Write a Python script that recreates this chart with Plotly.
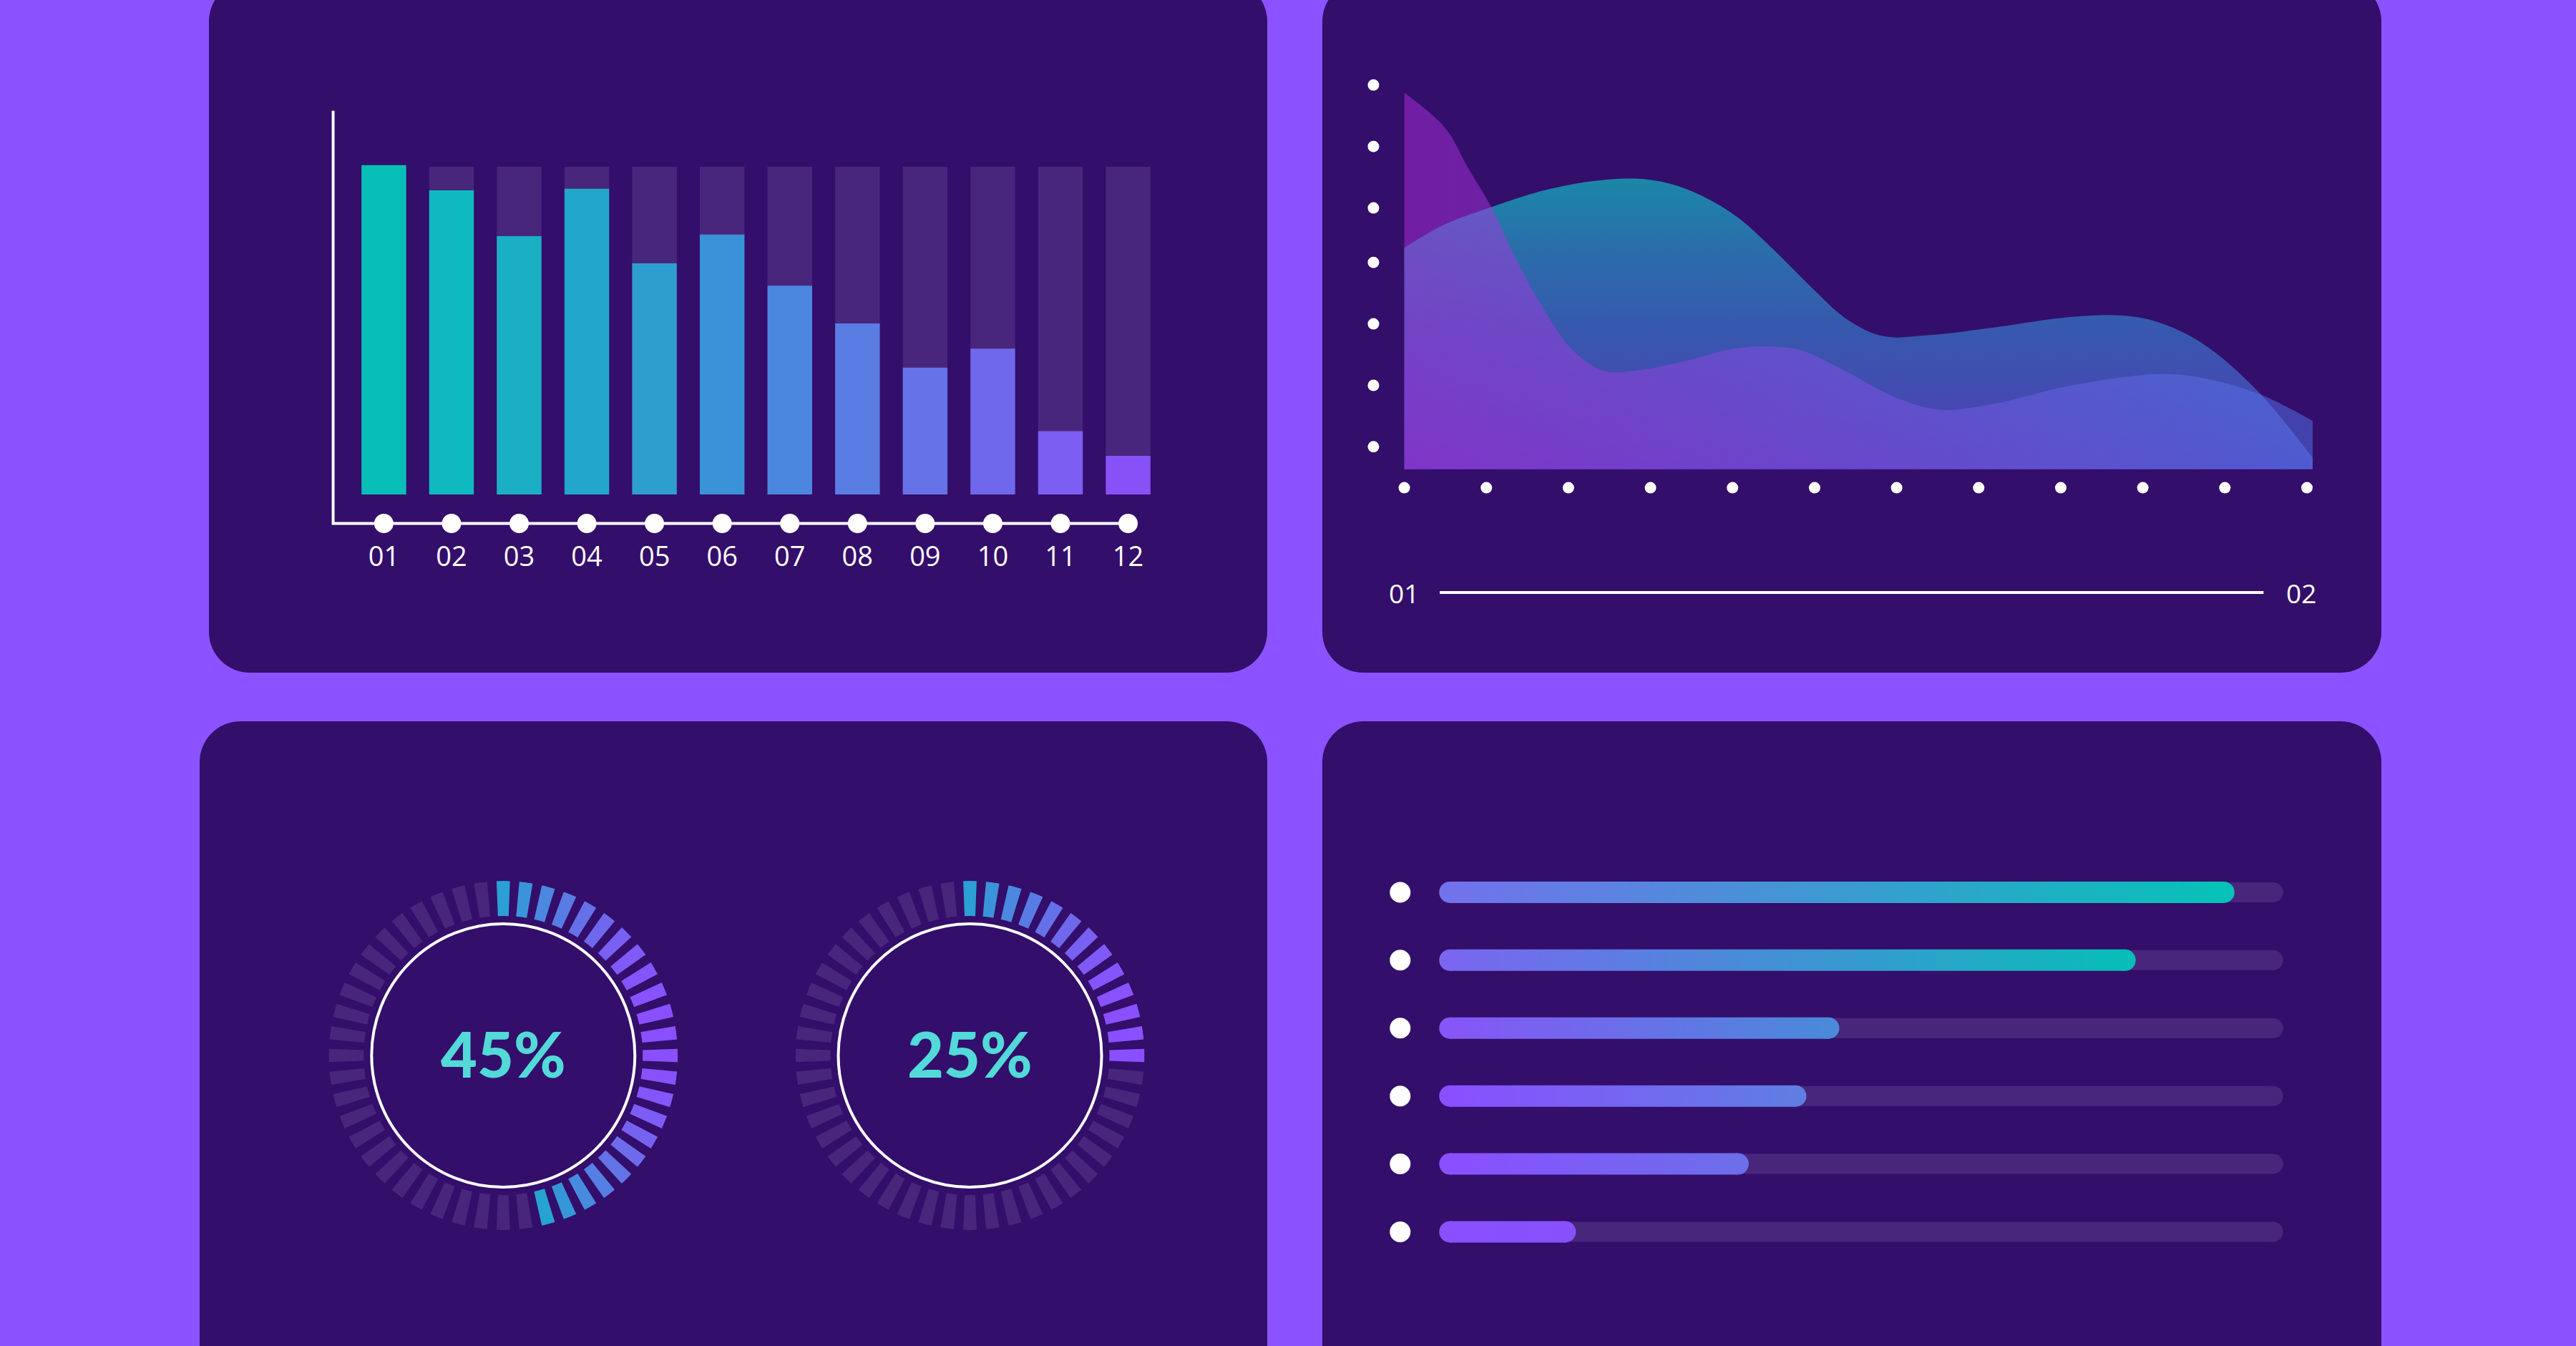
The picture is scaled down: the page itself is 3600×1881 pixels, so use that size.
import math
import plotly.graph_objects as go

W, H = 3600, 1881
BG = "#8C52FF"
PANEL = "#330E6B"
TRACK = "#47267C"
WHITE = "#FFFFFF"
FONT = "Open Sans"

# --- top left: monthly bars (share of track, %) ---
months = ["01", "02", "03", "04", "05", "06", "07", "08", "09", "10", "11", "12"]
month_values = [100.5, 92.8, 78.8, 93.3, 70.5, 79.3, 63.7, 52.2, 38.7, 44.5, 19.3, 11.8]
month_track = [100] * 12
month_colors = ["#07BFB8", "#0EB9BF", "#1BAFC5", "#22A7CA", "#2E9ECF", "#3A92D8",
                "#4B87DE", "#5A7DE3", "#6673E8", "#6F68EC", "#7C5EF2", "#8751F8"]

# --- top right: two waves ---
wave_purple_x = [0, 0.5, 0.77, 1.06, 1.35, 1.66, 2.05, 2.44, 2.83, 3.41, 4.0,
                 4.45, 4.84, 5.4, 5.95, 6.51, 7.23, 8.07, 9.18, 9.73, 10.4, 11.07]
wave_purple_y = [97.4, 88.2, 78.2, 67.8, 54.9, 42.8, 30.8, 25.4, 25.5, 27.9, 31.1,
                 31.8, 30.7, 25.1, 18.9, 15.4, 17.1, 21.4, 24.6, 23.6, 19.6, 12.5]
wave_teal_x = [0, 0.5, 1.06, 1.66, 2.25, 2.8, 3.23, 3.62, 4.06, 4.51, 4.95, 5.4, 5.84,
               6.4, 7.23, 8.07, 8.73, 9.18, 9.73, 10.4, 11.07]
wave_teal_y = [57.3, 63.4, 67.8, 71.9, 74.4, 75.2, 73.9, 70.8, 65.2, 56.6, 47.3, 38.7, 34.4,
               34.7, 36.8, 39.3, 39.8, 38.1, 32.5, 20.2, 2.9]
wave_x_ticks = list(range(12))
wave_y_ticks = [99.4, 83.5, 67.6, 53.5, 37.6, 21.7, 5.8]
wave_labels = ["01", "02"]

# --- bottom left: gauges ---
gauge_values = [45, 25]
GAUGE_TICKS = 48

# --- bottom right: progress rows (%) ---
progress_values = [94, 82, 46, 42, 35, 14]
progress_left = ["#7272EC", "#7A66F0", "#8656F7", "#8A4FFF", "#8A4FFF", "#8A4FFF"]
progress_right = ["#06C2B7", "#08BDB9", "#4A8AD9", "#5F7DE3", "#6C6EEA", "#8651FB"]


def panel(x0, y0, x1, y1, r=57):
    # rounded rect, pixel coords from top-left -> paper path
    k = 0.552 * r

    def p(x, y):
        return f"{x / W:.5f},{1 - y / H:.5f}"

    path = (f"M {p(x0 + r, y0)} L {p(x1 - r, y0)} "
            f"C {p(x1 - r + k, y0)} {p(x1, y0 + r - k)} {p(x1, y0 + r)} "
            f"L {p(x1, y1 - r)} "
            f"C {p(x1, y1 - r + k)} {p(x1 - r + k, y1)} {p(x1 - r, y1)} "
            f"L {p(x0 + r, y1)} "
            f"C {p(x0 + r - k, y1)} {p(x0, y1 - r + k)} {p(x0, y1 - r)} "
            f"L {p(x0, y0 + r)} "
            f"C {p(x0, y0 + r - k)} {p(x0 + r - k, y0)} {p(x0 + r, y0)} Z")
    return dict(type="path", path=path, xref="paper", yref="paper",
                fillcolor=PANEL, line=dict(width=0), layer="below")


fig = go.Figure()

# bar chart
fig.add_trace(go.Bar(x=list(range(12)), y=month_track, width=0.66,
                     marker=dict(color=TRACK, line=dict(width=0)),
                     xaxis="x", yaxis="y", hoverinfo="skip"))
fig.add_trace(go.Bar(x=list(range(12)), y=month_values, width=0.66,
                     marker=dict(color=month_colors, line=dict(width=0)),
                     xaxis="x", yaxis="y"))
# axis corner: y axis up the left, x axis out to the last month
fig.add_trace(go.Scatter(x=[-0.749, -0.749, 11], y=[117.1, -8.84, -8.84], mode="lines",
                         line=dict(color=WHITE, width=4), xaxis="x", yaxis="y"))
fig.add_trace(go.Scatter(x=list(range(12)), y=[-8.84] * 12, mode="markers",
                         marker=dict(size=27, color=WHITE), cliponaxis=False,
                         xaxis="x", yaxis="y"))

# waves
fig.add_trace(go.Scatter(x=wave_teal_x, y=wave_teal_y, mode="lines",
                         line=dict(width=0, shape="spline", smoothing=1),
                         fill="tozeroy",
                         fillgradient=dict(type="vertical", start=0, stop=75.4,
                                           colorscale=[[0, "#503CB4"], [0.48, "#3758AE"],
                                                       [0.76, "#2A6EAA"], [1, "#1B87A8"]]),
                         xaxis="x2", yaxis="y2"))
fig.add_trace(go.Scatter(x=wave_purple_x, y=wave_purple_y, mode="lines",
                         line=dict(width=0, shape="spline", smoothing=1),
                         fill="tozeroy",
                         fillgradient=dict(type="horizontal", start=0, stop=11.07,
                                           colorscale=[[0, "rgba(176,46,220,0.5)"],
                                                       [1, "rgba(80,120,236,0.5)"]]),
                         xaxis="x2", yaxis="y2"))
fig.add_trace(go.Scatter(x=wave_x_ticks, y=[-4.8] * len(wave_x_ticks), mode="markers",
                         marker=dict(size=16, color=WHITE), cliponaxis=False,
                         xaxis="x2", yaxis="y2"))
fig.add_trace(go.Scatter(x=[-0.376] * len(wave_y_ticks), y=wave_y_ticks, mode="markers",
                         marker=dict(size=16, color=WHITE), cliponaxis=False,
                         xaxis="x2", yaxis="y2"))

# gauges
step = 360 / GAUGE_TICKS
thetas = [i * step for i in range(GAUGE_TICKS)]
for gi, val in enumerate(gauge_values):
    pol = "polar" if gi == 0 else "polar2"
    fig.add_trace(go.Barpolar(theta=thetas, r=[49] * GAUGE_TICKS, base=195, width=4.4,
                              marker=dict(color=TRACK, line=dict(width=0)),
                              subplot=pol, hoverinfo="skip"))
    on = [t for t in thetas if t <= val * 3.6 + 4]
    shade = [math.sin(math.radians(t)) + 0.15 * math.cos(math.radians(t)) for t in on]
    fig.add_trace(go.Barpolar(theta=on, r=[49] * len(on), base=195, width=4.4,
                              marker=dict(color=shade, cmin=-0.15, cmax=1,
                                          colorscale=[[0, "#12B6BF"], [0.26, "#2AA0D4"],
                                                      [0.5, "#4E86E0"], [0.75, "#6E69EC"],
                                                      [1, "#8A50FF"]],
                                          line=dict(width=0)),
                              subplot=pol))

# progress rows
rows = list(range(len(progress_values)))
track_x, track_y = [], []
for i in rows:
    track_x += [0, 100, None]
    track_y += [i, i, None]
fig.add_trace(go.Scatter(x=track_x, y=track_y, mode="lines+markers",
                         line=dict(width=28, color=TRACK),
                         marker=dict(size=28, color=TRACK),
                         xaxis="x3", yaxis="y3"))
h = 0.158
for i, v in enumerate(progress_values):
    fig.add_trace(go.Scatter(x=[0, v, v, 0, 0], y=[i - h, i - h, i + h, i + h, i - h],
                             mode="lines", line=dict(width=0), fill="toself",
                             fillgradient=dict(type="horizontal", start=0, stop=v,
                                               colorscale=[[0, progress_left[i]],
                                                           [1, progress_right[i]]]),
                             xaxis="x3", yaxis="y3"))
    fig.add_trace(go.Scatter(x=[0, v], y=[i, i], mode="markers",
                             marker=dict(size=30, color=[progress_left[i], progress_right[i]]),
                             xaxis="x3", yaxis="y3"))
fig.add_trace(go.Scatter(x=[-6.04] * len(rows), y=rows, mode="markers",
                         marker=dict(size=29, color=WHITE), cliponaxis=False,
                         xaxis="x3", yaxis="y3"))

hidden = dict(showgrid=False, zeroline=False, showticklabels=False, showline=False,
              ticks="", fixedrange=True)

polar_common = dict(
    bgcolor="rgba(0,0,0,0)", hole=0,
    angularaxis=dict(direction="clockwise", rotation=90, showgrid=False,
                     showticklabels=False, showline=False, ticks=""),
    radialaxis=dict(range=[0, 244], showticklabels=False, showline=False, ticks="",
                    showgrid=True, tickvals=[184], gridcolor=WHITE, gridwidth=4),
)

label_font = dict(family=FONT, size=37, color=WHITE)
pct_font = dict(family="Lato", size=88, color="#52D9D8", weight=900)

fig.update_layout(
    width=W, height=H, margin=dict(l=0, r=0, t=0, b=0),
    paper_bgcolor=BG, plot_bgcolor="rgba(0,0,0,0)",
    showlegend=False, barmode="overlay",
    xaxis=dict(domain=[0.12536, 0.44844], range=[-0.9, 11.4], showgrid=False,
               zeroline=False, showline=False,
               tickvals=list(range(12)), ticktext=months, ticks="",
               tickfont=dict(family=FONT, size=38, color=WHITE),
               ticklabelstandoff=15, fixedrange=True),
    yaxis=dict(domain=[0.6083, 0.91994], range=[-10, 118], **hidden),
    xaxis2=dict(domain=[0.53317, 0.89778], range=[-0.376, 11.07], anchor="y2", **hidden),
    yaxis2=dict(domain=[0.63764, 0.93684], range=[-4.8, 99.4], anchor="x2", **hidden),
    xaxis3=dict(domain=[0.53728, 0.88883], range=[-8, 102], anchor="y3", **hidden),
    yaxis3=dict(domain=[0.0596, 0.36231], range=[5.5, -0.5], anchor="x3", **hidden),
    polar=dict(domain=dict(x=[0.12758, 0.26314], y=[0.08612, 0.34556]), **polar_common),
    polar2=dict(domain=dict(x=[0.30875, 0.44431], y=[0.08612, 0.34556]), **polar_common),
    shapes=[
        panel(292, -27, 1771, 940),
        panel(1848, -27, 3328, 940),
        panel(279, 1008, 1771, 1950),
        panel(1848, 1008, 3328, 1950),
        dict(type="line", xref="paper", yref="paper", x0=0.5589, x1=0.8787,
             y0=0.5598, y1=0.5598, line=dict(color=WHITE, width=4)),
    ],
    annotations=[
        dict(text=wave_labels[0], x=0.5451, y=0.5598, xref="paper", yref="paper",
             xanchor="center", yanchor="middle", showarrow=False, font=label_font),
        dict(text=wave_labels[1], x=0.8933, y=0.5598, xref="paper", yref="paper",
             xanchor="center", yanchor="middle", showarrow=False, font=label_font),
        dict(text=f"{gauge_values[0]}%", x=0.19536, y=0.2172, xref="paper", yref="paper",
             xanchor="center", yanchor="middle", showarrow=False, font=pct_font),
        dict(text=f"{gauge_values[1]}%", x=0.37653, y=0.2172, xref="paper", yref="paper",
             xanchor="center", yanchor="middle", showarrow=False, font=pct_font),
    ],
)

fig.write_html("out.html", config={"displayModeBar": False},
               post_script="document.body.style.margin='0px';")
